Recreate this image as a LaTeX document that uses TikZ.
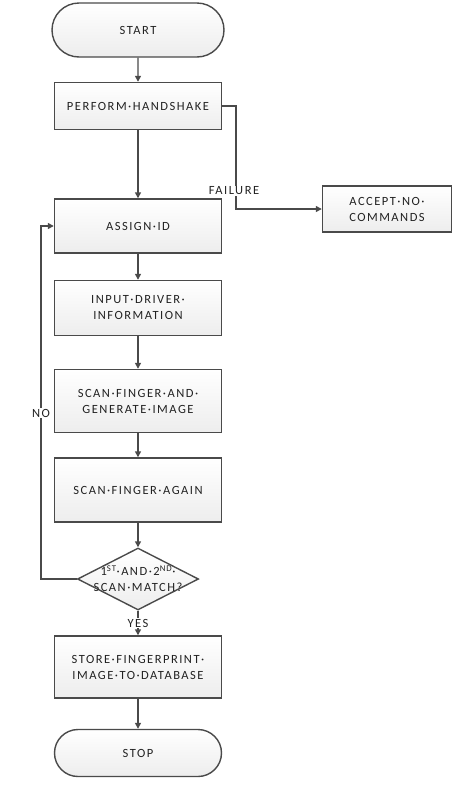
\documentclass[tikz,border=0pt]{standalone}
\usepackage{fontspec}
\setmainfont{Carlito}[LetterSpace=12]
\usetikzlibrary{shapes.misc,shapes.geometric,arrows.meta}
\definecolor{edge}{HTML}{4A4A4A}
\definecolor{ink}{HTML}{222222}
\begin{document}
\begin{tikzpicture}[x=1pt,y=-1pt,
  box/.style={draw=edge,line width=1.4pt,top color=white,bottom color=black!7,text=ink,align=center,
    minimum width=167pt,inner sep=0pt,font=\fontsize{12.5}{16}\selectfont},
  term/.style={box,rounded rectangle,minimum height=47pt},
  decision/.style={draw=edge,line width=1.4pt,top color=white,bottom color=black!7,diamond,
    minimum width=121pt,minimum height=62pt,inner sep=0pt},
  flow/.style={draw=edge,line width=1.4pt,-{Triangle[length=6pt,width=6pt]}},
  tag/.style={text=ink,fill=white,inner sep=1pt,font=\fontsize{12.5}{16}\selectfont}]
\useasboundingbox (0,0) rectangle (474,785);
\node[term,minimum width=172pt,minimum height=54pt] (start) at (138,30) {START};
\node[box,minimum height=47pt] (handshake) at (138,106) {PERFORM·HANDSHAKE};
\node[box,minimum height=54pt] (assign) at (138,226) {ASSIGN·ID};
\node[box,minimum width=129pt,minimum height=46pt] (reject) at (387,209) {ACCEPT·NO·\\COMMANDS};
\node[box,minimum height=55pt] (driver) at (138,308) {INPUT·DRIVER·\\INFORMATION};
\node[box,minimum height=63pt] (scan) at (138,401) {SCAN·FINGER·AND·\\GENERATE·IMAGE};
\node[box,minimum height=64pt] (rescan) at (138,490) {SCAN·FINGER·AGAIN};
\node[decision] (check) at (138,579) {};
\node[tag,fill=none,align=center] at (check) {1\textsuperscript{ST}·AND·2\textsuperscript{ND}·\\SCAN·MATCH?};
\node[box,minimum height=62pt] (store) at (138,667) {STORE·FINGERPRINT·\\IMAGE·TO·DATABASE};
\node[term] (stop) at (138,753) {STOP};
\coordinate (fail) at (236,106);
\coordinate (loop) at (41,579);
\draw[flow] (start) -- (handshake);
\draw[flow] (handshake) -- (assign);
\draw[flow] (handshake.east) -- (fail) |- (reject.west);
\draw[flow] (assign) -- (driver);
\draw[flow] (driver) -- (scan);
\draw[flow] (scan) -- (rescan);
\draw[flow] (rescan) -- (check.north);
\draw[flow] (check.west) -- (loop) |- (assign.west);
\draw[flow] (check.south) -- (store);
\draw[flow] (store) -- (stop);
\node[tag] at (234,191) {FAILURE};
\node[tag] at (41,413) {NO};
\node[tag] at (138,623) {YES};
\end{tikzpicture}
\end{document}
